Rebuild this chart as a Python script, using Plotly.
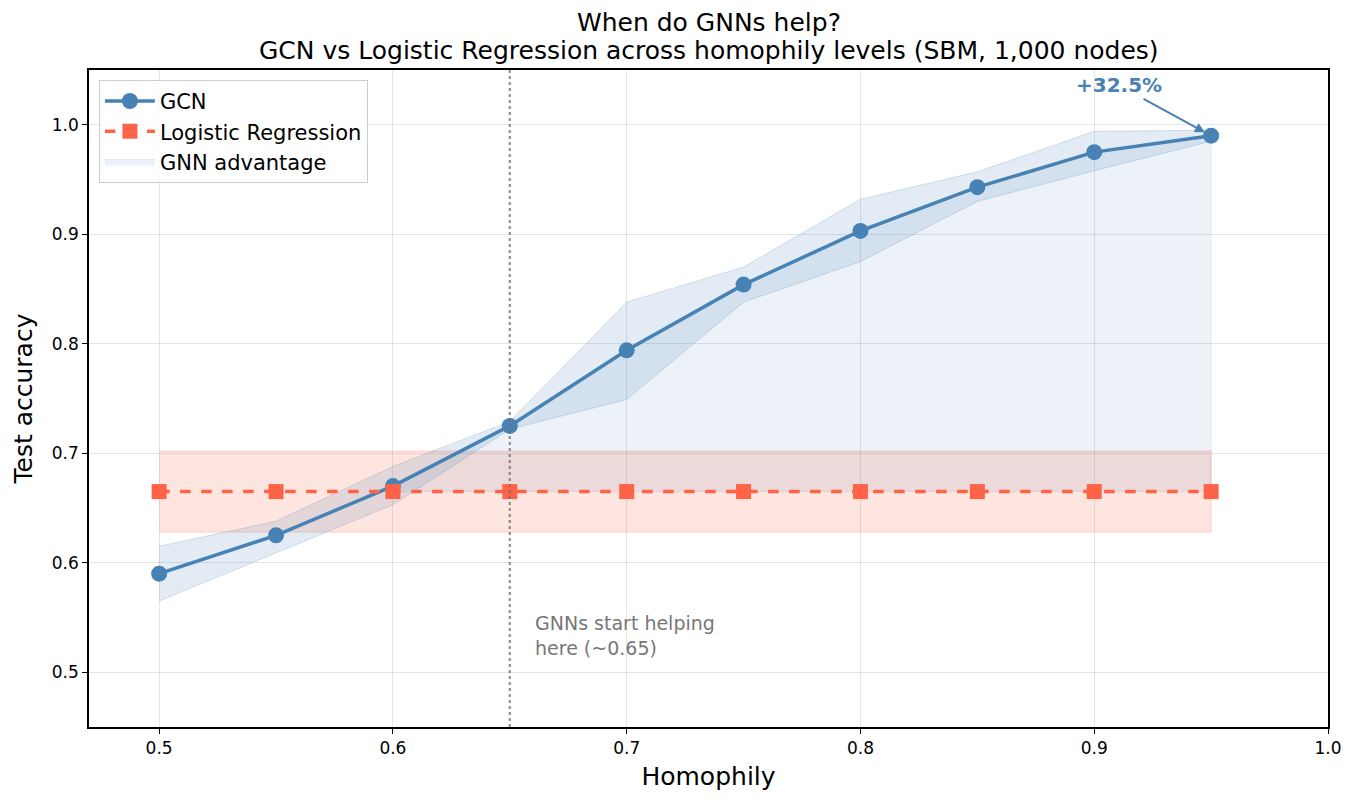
import plotly.graph_objects as go

homophily = [0.5, 0.55, 0.6, 0.65, 0.7, 0.75, 0.8, 0.85, 0.9, 0.95]
gcn_acc = [0.590, 0.625, 0.670, 0.725, 0.794, 0.854, 0.903, 0.943, 0.975, 0.990]
gcn_upper = [0.615, 0.638, 0.688, 0.729, 0.838, 0.870, 0.932, 0.957, 0.994, 0.995]
gcn_lower = [0.565, 0.609, 0.653, 0.722, 0.749, 0.838, 0.875, 0.930, 0.958, 0.985]
lr_acc = [0.665] * 10
lr_upper = [0.702] * 10
lr_lower = [0.628] * 10

title_lines = ["When do GNNs help?",
               "GCN vs Logistic Regression across homophily levels (SBM, 1,000 nodes)"]

BLUE = "#4682B4"
RED = "#FF6347"
FONT = "DejaVu Sans"

fig = go.Figure()

# LR std band
fig.add_trace(go.Scatter(
    x=homophily + homophily[::-1], y=lr_upper + lr_lower[::-1],
    fill="toself", fillcolor="rgba(255,99,71,0.17)",
    line=dict(color="rgba(255,99,71,0.25)", width=1),
    showlegend=False, hoverinfo="skip"))

# GCN std band
fig.add_trace(go.Scatter(
    x=homophily + homophily[::-1], y=gcn_upper + gcn_lower[::-1],
    fill="toself", fillcolor="rgba(70,130,180,0.15)",
    line=dict(color="rgba(70,130,180,0.22)", width=1),
    showlegend=False, hoverinfo="skip"))

# GNN advantage (where GCN > LR)
adv_x = [h for h, g, l in zip(homophily, gcn_acc, lr_acc) if g > l]
adv_g = [g for h, g, l in zip(homophily, gcn_acc, lr_acc) if g > l]
adv_l = [l for h, g, l in zip(homophily, gcn_acc, lr_acc) if g > l]
fig.add_trace(go.Scatter(
    x=adv_x + adv_x[::-1], y=adv_g + adv_l[::-1],
    fill="toself", fillcolor="rgba(70,130,180,0.10)",
    line=dict(color="rgba(70,130,180,0.12)", width=1),
    mode="lines",
    name="GNN advantage", legendrank=3, hoverinfo="skip"))

fig.add_trace(go.Scatter(
    x=homophily, y=gcn_acc, mode="lines+markers", name="GCN",
    line=dict(color=BLUE, width=3.5),
    marker=dict(symbol="circle", size=16, color=BLUE),
    legendrank=1))

fig.add_trace(go.Scatter(
    x=homophily, y=lr_acc, mode="lines+markers", name="Logistic Regression",
    line=dict(color=RED, width=3.5, dash="dash"),
    marker=dict(symbol="square", size=15, color=RED),
    legendrank=2))

fig.add_shape(type="line", x0=0.65, x1=0.65, y0=0, y1=1, xref="x", yref="paper",
              line=dict(color="rgba(110,110,110,0.75)", width=2.2, dash="dot"))

fig.add_annotation(x=0.66, y=0.510, xref="x", yref="y", xanchor="left", yanchor="bottom",
                   text="GNNs start helping<br>here (~0.65)", showarrow=False, align="left",
                   font=dict(family=FONT, size=19, color="#777777"))

gain = gcn_acc[-1] - lr_acc[-1]
fig.add_annotation(x=homophily[-1], y=gcn_acc[-1], xref="x", yref="y",
                   ax=0.9105, ay=1.036, axref="x", ayref="y",
                   text="<b>+%.1f%%</b>" % (gain * 100), showarrow=True,
                   arrowhead=2, arrowsize=1, arrowwidth=2, arrowcolor=BLUE, standoff=7,
                   font=dict(family=FONT, size=20, color=BLUE))

# Two-line title
for txt, yp in zip(title_lines, [1.073, 1.0304]):
    fig.add_annotation(x=0.5, y=yp, xref="paper", yref="paper", xanchor="center",
                       yanchor="middle", text=txt, showarrow=False,
                       font=dict(family=FONT, size=25, color="black"))

fig.update_layout(
    width=1358, height=805,
    margin=dict(l=89, r=30, t=70, b=78),
    paper_bgcolor="white", plot_bgcolor="white",
    font=dict(family=FONT, size=17, color="black"),
    legend=dict(x=0.008, y=0.985, xanchor="left", yanchor="top",
                bordercolor="#cccccc", borderwidth=1, bgcolor="rgba(255,255,255,0.85)",
                font=dict(family=FONT, size=21), traceorder="normal",
                itemwidth=50, tracegroupgap=0),
    xaxis=dict(range=[0.47, 1.0], tickvals=[0.5, 0.6, 0.7, 0.8, 0.9, 1.0],
               ticktext=["0.5", "0.6", "0.7", "0.8", "0.9", "1.0"],
               showgrid=True, gridcolor="rgba(0,0,0,0.1)", gridwidth=1,
               showline=True, linecolor="black", linewidth=1.5, mirror=True,
               ticks="outside", ticklen=5, tickcolor="black", zeroline=False,
               title=dict(text="Homophily", font=dict(size=25), standoff=10),
               tickfont=dict(size=17)),
    yaxis=dict(range=[0.45, 1.05], tickvals=[0.5, 0.6, 0.7, 0.8, 0.9, 1.0],
               ticktext=["0.5", "0.6", "0.7", "0.8", "0.9", "1.0"],
               showgrid=True, gridcolor="rgba(0,0,0,0.1)", gridwidth=1,
               showline=True, linecolor="black", linewidth=1.5, mirror=True,
               ticks="outside", ticklen=5, tickcolor="black", zeroline=False,
               title=dict(text="Test accuracy", font=dict(size=25), standoff=12),
               tickfont=dict(size=17)),
)

fig.write_html("out.html")
